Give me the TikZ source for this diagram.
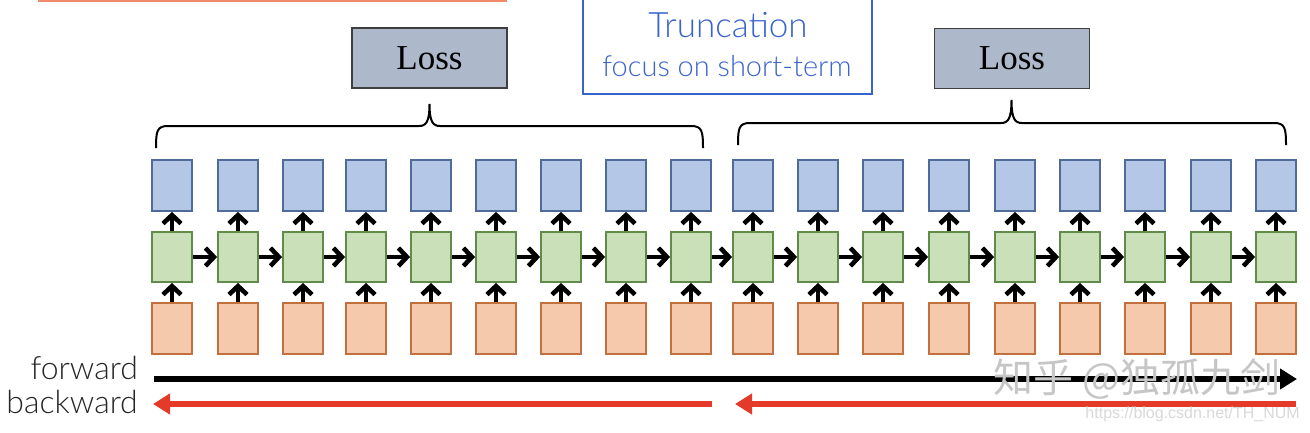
\documentclass[tikz,border=0pt]{standalone}
\usepackage{fontspec}
\setmainfont{Liberation Serif}
\newfontfamily\gillfont{Lato Light}
\newfontfamily\cjkfont{Noto Sans CJK SC}
\newfontfamily\urlfont{Liberation Sans}
\usetikzlibrary{arrows.meta}
\definecolor{bluefill}{HTML}{B4C7E7}
\definecolor{blueedge}{HTML}{4F6B98}
\definecolor{greenfill}{HTML}{C9E0B8}
\definecolor{greenedge}{HTML}{618B4A}
\definecolor{orangefill}{HTML}{F5C9AB}
\definecolor{orangeedge}{HTML}{C2703F}
\definecolor{lossfill}{HTML}{ADB9CA}
\definecolor{lossedge}{HTML}{3F3F3F}
\definecolor{truncblue}{HTML}{3B63CC}
\definecolor{bwred}{HTML}{E53A2A}
\definecolor{topred}{HTML}{F08A6A}
\begin{document}
\begin{tikzpicture}[x=1pt,y=-1pt,
  cell/.style={rectangle,minimum width=40pt,minimum height=51pt,inner sep=0pt,line width=1.8pt},
  outcell/.style={cell,fill=bluefill,draw=blueedge},
  hidcell/.style={cell,fill=greenfill,draw=greenedge,minimum height=50pt},
  incell/.style={cell,fill=orangefill,draw=orangeedge},
  flow/.style={line width=4.6pt,-{Straight Barb[length=8.5pt,width=18pt]}},
  lossbox/.style={rectangle,fill=lossfill,draw=lossedge,line width=1.5pt,minimum width=155pt,minimum height=60pt,inner sep=0pt,font=\fontsize{35}{38}\selectfont},
  bracepath/.style={line width=2pt,black},
  lbl/.style={font=\gillfont\fontsize{32}{36}\selectfont,anchor=base east,inner sep=0pt,text=black!85},
  trunctext/.style={anchor=base,inner sep=0pt,text=truncblue,font=\gillfont},
]
\useasboundingbox (0,0) rectangle (1310,432);
\begin{scope}
\clip (0,0) rectangle (1310,432);
\fill[white] (0,0) rectangle (1310,432);
% top-left red line
\coordinate (tl1) at (38,0.8);
\coordinate (tl2) at (507,0.8);
\draw[topred,line width=2.5pt] (tl1) -- (tl2);
% Truncation box
\node[draw=truncblue,line width=2pt,minimum width=289pt,minimum height=110pt,inner sep=0pt] (trunc) at (727.5,39) {};
\node[trunctext,font=\gillfont\fontsize{35}{38}\selectfont] (trunct) at (728,37) {Truncation};
\node[trunctext,font=\gillfont\fontsize{29}{32}\selectfont] (truncs) at (727,76) {focus on short-term};
% Loss boxes
\node[lossbox] (loss1) at (429.5,58) {Loss};
\node[lossbox] (loss2) at (1012,58.5) {Loss};
% braces
\draw[bracepath] (156,148) .. controls (156,131) and (157,126) .. (168,126) -- (419,126)
  .. controls (426,126) and (429.5,122) .. (429.5,104)
  .. controls (429.5,122) and (433,126) .. (440,126) -- (691,126)
  .. controls (702,126) and (703,131) .. (703,148);
\draw[bracepath] (738,145) .. controls (738,128) and (739,123) .. (750,123) -- (1001,123)
  .. controls (1008,123) and (1011.5,119) .. (1011.5,100)
  .. controls (1011.5,119) and (1015,123) .. (1022,123) -- (1274,123)
  .. controls (1285,123) and (1286,128) .. (1286,145);
% columns
\foreach \i/\cx in {1/172,2/238,3/303,4/366,5/431,6/496,7/561,8/626,9/691,10/753,11/818,12/883,13/949,14/1015,15/1080,16/1145,17/1211,18/1276} {
  \node[outcell] (o\i) at (\cx,185.5) {};
  \node[hidcell] (h\i) at (\cx,257) {};
  \node[incell] (x\i) at (\cx,328.5) {};
  \draw[flow] (x\i) -- (h\i);
  \draw[flow] (h\i) -- (o\i);
}
\foreach \i [evaluate=\i as \j using {int(\i+1)}] in {1,...,17} {
  \draw[flow] (h\i) -- (h\j);
}
% forward / backward
\node[lbl] (fwd) at (138,379) {forward};
\node[lbl] (bwd) at (138,413) {backward};
\coordinate (fs) at (154,379);
\coordinate (fe) at (1297,379);
\draw[line width=6pt,-{Triangle[length=17pt,width=20pt]}] (fs) -- (fe);
\coordinate (b1s) at (712,404);
\coordinate (b1e) at (153,404);
\coordinate (b2s) at (1296,404);
\coordinate (b2e) at (735,404);
\draw[bwred,line width=6pt,-{Triangle[length=17pt,width=20pt]}] (b1s) -- (b1e);
\draw[bwred,line width=6pt,-{Triangle[length=17pt,width=20pt]}] (b2s) -- (b2e);
% watermarks
\node[font=\cjkfont\fontsize{40}{44}\selectfont,text=gray!45,anchor=base west,inner sep=0pt] (wm) at (993,392) {知乎 @独孤九剑};
\node[font=\urlfont\fontsize{16}{18}\selectfont,text=gray!30,anchor=base east,inner sep=0pt] (url) at (1300,418) {https://blog.csdn.net/TH\_NUM};
\end{scope}
\end{tikzpicture}
\end{document}
